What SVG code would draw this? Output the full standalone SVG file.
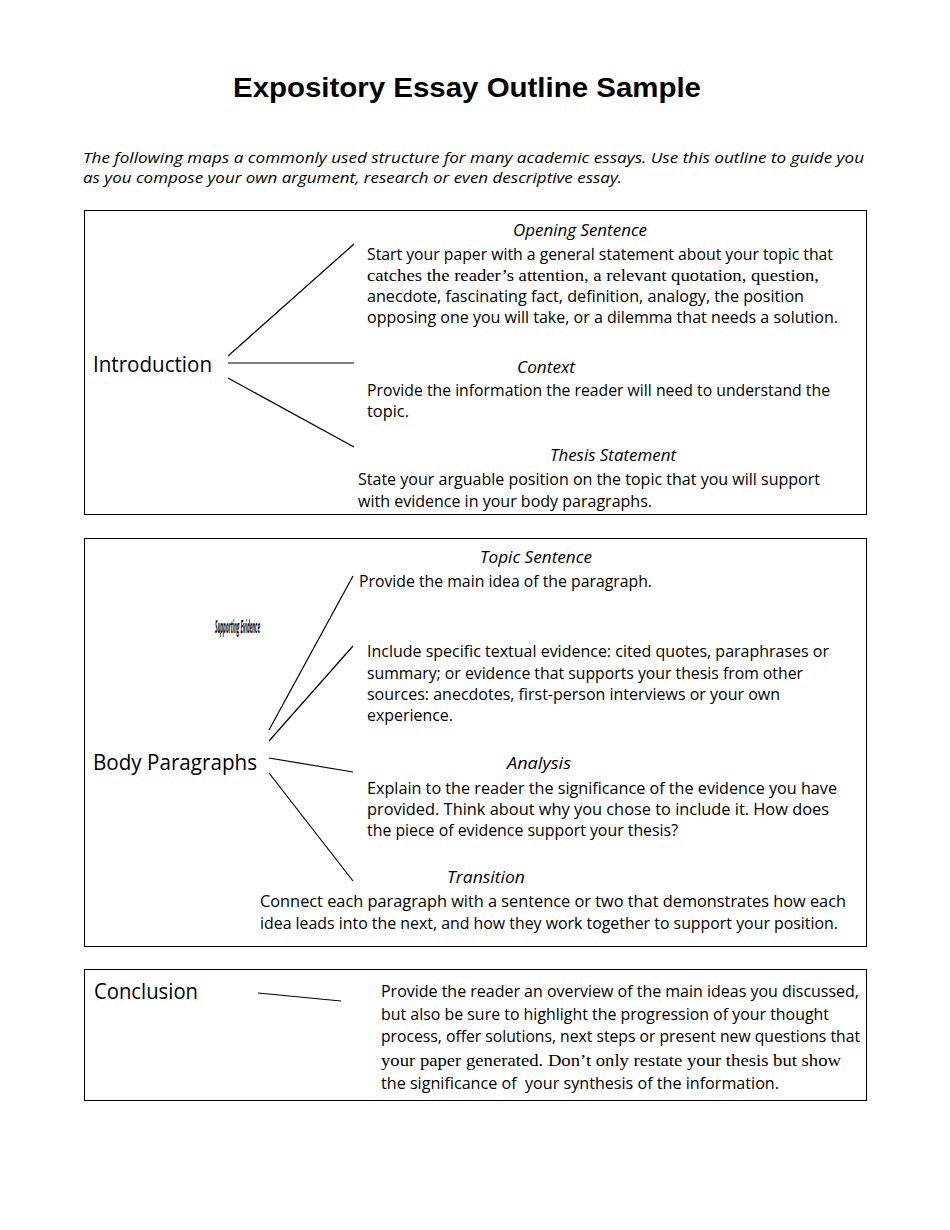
<svg xmlns="http://www.w3.org/2000/svg" width="950" height="1230" viewBox="0 0 950 1230">
<style>
.t{font-family:"Open Sans","Noto Sans",sans-serif;font-size:17px;fill:#000}
.s{font-family:"Liberation Serif",serif;font-size:17px;fill:#000}
.i{font-family:"Open Sans","Noto Sans",sans-serif;font-size:17px;font-style:italic;fill:#000}
.h{font-family:"Open Sans","Noto Sans",sans-serif;font-size:21px;fill:#000}
.box{fill:none;stroke:#000;stroke-width:1}
.ln{stroke:#000;stroke-width:1.2;fill:none}
</style>
<rect width="950" height="1230" fill="#fff"/>
<g id="title">
<text x="233" y="97" textLength="468" lengthAdjust="spacingAndGlyphs" style="font-family:'Liberation Sans',Arial,sans-serif;font-size:28px;font-weight:bold">Expository Essay Outline Sample</text>
<text class="i" x="83" y="163" textLength="781" lengthAdjust="spacingAndGlyphs" style="font-size:15px">The following maps a commonly used structure for many academic essays. Use this outline to guide you</text>
<text class="i" x="83" y="183" textLength="539" lengthAdjust="spacingAndGlyphs" style="font-size:15px">as you compose your own argument, research or even descriptive essay.</text>
</g>
<g id="introduction">
<rect class="box" x="84.5" y="210.5" width="782" height="304"/>
<text class="h" x="93" y="372" textLength="119" lengthAdjust="spacingAndGlyphs">Introduction</text>
<text class="i" x="513" y="236" textLength="134" lengthAdjust="spacingAndGlyphs">Opening Sentence</text>
<text class="t" x="367" y="260" textLength="466" lengthAdjust="spacingAndGlyphs">Start your paper with a general statement about your topic that</text>
<text class="s" x="367" y="281" textLength="452" lengthAdjust="spacingAndGlyphs">catches the reader’s attention, a relevant quotation, question,</text>
<text class="t" x="367" y="302" textLength="437" lengthAdjust="spacingAndGlyphs">anecdote, fascinating fact, definition, analogy, the position</text>
<text class="t" x="367" y="323" textLength="471" lengthAdjust="spacingAndGlyphs">opposing one you will take, or a dilemma that needs a solution.</text>
<text class="i" x="517" y="373" textLength="58" lengthAdjust="spacingAndGlyphs">Context</text>
<text class="t" x="367" y="396" textLength="463" lengthAdjust="spacingAndGlyphs">Provide the information the reader will need to understand the</text>
<text class="t" x="367" y="417" textLength="42" lengthAdjust="spacingAndGlyphs">topic.</text>
<text class="i" x="550" y="461" textLength="126" lengthAdjust="spacingAndGlyphs">Thesis Statement</text>
<text class="t" x="358" y="485" textLength="462" lengthAdjust="spacingAndGlyphs">State your arguable position on the topic that you will support</text>
<text class="t" x="358" y="507" textLength="294" lengthAdjust="spacingAndGlyphs">with evidence in your body paragraphs.</text>
</g>
<g id="body">
<rect class="box" x="84.5" y="538.5" width="782" height="408"/>
<text class="h" x="93" y="770" textLength="164" lengthAdjust="spacingAndGlyphs">Body Paragraphs</text>
<text class="i" x="480" y="563" textLength="112" lengthAdjust="spacingAndGlyphs">Topic Sentence</text>
<text class="t" x="359" y="587" textLength="293" lengthAdjust="spacingAndGlyphs">Provide the main idea of the paragraph.</text>
<text class="i" x="215" y="633" textLength="45" lengthAdjust="spacingAndGlyphs" style="font-weight:bold">Supporting Evidence</text>
<text class="t" x="367" y="657" textLength="462" lengthAdjust="spacingAndGlyphs">Include specific textual evidence: cited quotes, paraphrases or</text>
<text class="t" x="367" y="679" textLength="436" lengthAdjust="spacingAndGlyphs">summary; or evidence that supports your thesis from other</text>
<text class="t" x="367" y="700" textLength="413" lengthAdjust="spacingAndGlyphs">sources: anecdotes, first-person interviews or your own</text>
<text class="t" x="367" y="721" textLength="86" lengthAdjust="spacingAndGlyphs">experience.</text>
<text class="i" x="507" y="769" textLength="64" lengthAdjust="spacingAndGlyphs">Analysis</text>
<text class="t" x="367" y="794" textLength="470" lengthAdjust="spacingAndGlyphs">Explain to the reader the significance of the evidence you have</text>
<text class="t" x="367" y="815" textLength="462" lengthAdjust="spacingAndGlyphs">provided. Think about why you chose to include it. How does</text>
<text class="t" x="367" y="836" textLength="311" lengthAdjust="spacingAndGlyphs">the piece of evidence support your thesis?</text>
<text class="i" x="447" y="883" textLength="78" lengthAdjust="spacingAndGlyphs">Transition</text>
<text class="t" x="260" y="907" textLength="586" lengthAdjust="spacingAndGlyphs">Connect each paragraph with a sentence or two that demonstrates how each</text>
<text class="t" x="260" y="929" textLength="578" lengthAdjust="spacingAndGlyphs">idea leads into the next, and how they work together to support your position.</text>
</g>
<g id="conclusion">
<rect class="box" x="84.5" y="969.5" width="782" height="131"/>
<text class="h" x="94" y="999" textLength="104" lengthAdjust="spacingAndGlyphs">Conclusion</text>
<text class="t" x="381" y="997" textLength="478" lengthAdjust="spacingAndGlyphs">Provide the reader an overview of the main ideas you discussed,</text>
<text class="t" x="381" y="1020" textLength="448" lengthAdjust="spacingAndGlyphs">but also be sure to highlight the progression of your thought</text>
<text class="t" x="381" y="1042" textLength="479" lengthAdjust="spacingAndGlyphs">process, offer solutions, next steps or present new questions that</text>
<text class="s" x="381" y="1066" textLength="460" lengthAdjust="spacingAndGlyphs">your paper generated. Don’t only restate your thesis but show</text>
<text class="t" x="381" y="1089" textLength="398" lengthAdjust="spacingAndGlyphs" xml:space="preserve">the significance of  your synthesis of the information.</text>
</g>
<g id="connectors">
<line class="ln" x1="228" y1="356" x2="354" y2="244"/>
<line class="ln" x1="228" y1="363" x2="354" y2="363"/>
<line class="ln" x1="228" y1="378" x2="354" y2="447"/>
<line class="ln" x1="269" y1="730" x2="353" y2="576"/>
<line class="ln" x1="269" y1="741" x2="353" y2="646"/>
<line class="ln" x1="269" y1="758" x2="353" y2="772"/>
<line class="ln" x1="269" y1="773" x2="353" y2="881"/>
<line class="ln" x1="258" y1="993" x2="341" y2="1001"/>
</g>
</svg>
